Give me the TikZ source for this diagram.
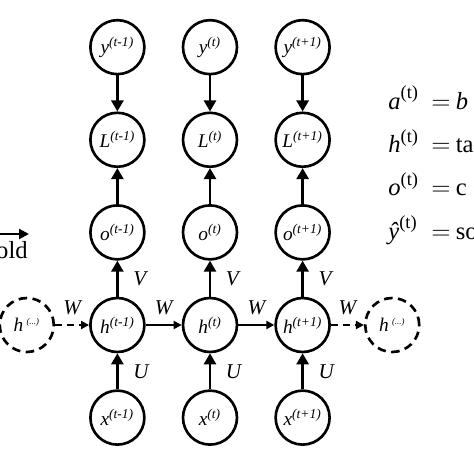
\documentclass[tikz,border=0pt]{standalone}
\usepackage{fontspec}
\setmainfont{Liberation Serif}
\usetikzlibrary{
  arrows.meta,
  positioning
}

\newcommand{\steplbl}[2]{\textit{#1}\textsuperscript{\textit{(#2)}}}
\newcommand{\eqsup}[1]{\raisebox{0.42em}{\fontsize{10.5}{12}\selectfont (#1)}}

\begin{document}
\begin{tikzpicture}[
  x=0.02cm, y=-0.02cm,
  node distance=0.72cm,
  unit/.style={
    circle, draw, line width=1.5pt,
    minimum size=1.08cm, inner sep=0pt,
    font=\fontsize{11}{13}\selectfont
  },
  ghost/.style={
    unit, dash pattern=on 1.7mm off 1.1mm
  },
  arr/.style={
    -{Triangle[length=2.2mm, width=2.4mm]}, line width=1.5pt
  },
  warr/.style={
    -{Triangle[length=1.6mm, width=1.6mm]}, line width=1.2pt
  },
  wt/.style={
    font=\fontsize{12}{14}\selectfont\itshape
  },
  eq/.style={
    anchor=base west, inner sep=0pt,
    font=\fontsize{14}{24.7}\selectfont
  }
]
  \useasboundingbox (0,0) rectangle (474,474);
  \clip (0,0) rectangle (474,474);

  % hidden states
  \node[unit] (h2) at (210,325) {\steplbl{h}{t}};
  \node[unit, left=of h2] (h1) {\steplbl{h}{t-1}};
  \node[unit, right=of h2] (h3) {\steplbl{h}{t+1}};
  \node[ghost, left=0.68cm of h1] (hl) {\textit{h}\,\textsuperscript{\tiny\textit{(...)}}};
  \node[ghost, right=0.66cm of h3] (hr) {\textit{h}\,\textsuperscript{\tiny\textit{(...)}}};

  % outputs, losses, targets
  \node[unit, above=of h1] (o1) {\steplbl{o}{t-1}};
  \node[unit, above=of h2] (o2) {\steplbl{o}{t}};
  \node[unit, above=of h3] (o3) {\steplbl{o}{t+1}};
  \node[unit, above=of o1] (L1) {\steplbl{L}{t-1}};
  \node[unit, above=of o2] (L2) {\steplbl{L}{t}};
  \node[unit, above=of o3] (L3) {\steplbl{L}{t+1}};
  \node[unit, above=of L1] (y1) {\steplbl{y}{t-1}};
  \node[unit, above=of L2] (y2) {\steplbl{y}{t}};
  \node[unit, above=of L3] (y3) {\steplbl{y}{t+1}};

  % inputs
  \node[unit, below=of h1] (x1) {\steplbl{x}{t-1}};
  \node[unit, below=of h2] (x2) {\steplbl{x}{t}};
  \node[unit, below=of h3] (x3) {\steplbl{x}{t+1}};

  \draw[arr] (y1) -- (L1);
  \draw[arr] (y2) -- (L2);
  \draw[arr] (y3) -- (L3);
  \draw[arr] (o1) -- (L1);
  \draw[arr] (o2) -- (L2);
  \draw[arr] (o3) -- (L3);
  \draw[arr] (h1) -- node[wt, right=5pt] {V} (o1);
  \draw[arr] (h2) -- node[wt, right=5pt] {V} (o2);
  \draw[arr] (h3) -- node[wt, right=5pt] {V} (o3);
  \draw[arr] (x1) -- node[wt, right=5pt] {U} (h1);
  \draw[arr] (x2) -- node[wt, right=5pt] {U} (h2);
  \draw[arr] (x3) -- node[wt, right=5pt] {U} (h3);

  % recurrence
  \draw[warr, dash pattern=on 1.4mm off 1mm] (hl) -- node[wt, above=2pt] {W} (h1);
  \draw[warr] (h1) -- node[wt, above=2pt] {W} (h2);
  \draw[warr] (h2) -- node[wt, above=2pt] {W} (h3);
  \draw[warr, dash pattern=on 1.4mm off 1mm] (h3) -- node[wt, above=2pt] {W} (hr);

  % unfold arrow
  \coordinate (foldstart) at (-60,234);
  \coordinate (foldtip) at (29,234);
  \draw[-{Triangle[length=2mm, width=2mm]}, line width=1.2pt] (foldstart) -- (foldtip);
  \node[anchor=base east, inner sep=0pt, font=\fontsize{14}{16}\selectfont] (unfold) at (28,258) {Unfold};

  % equations
  \node[eq] (eqs) at (388,109) {%
    \begin{tabular}[t]{@{}p{0.86cm}@{}l@{\hspace{3pt}}l@{}}
      \textit{a}\eqsup{t} & $=$ & \textit{b} + \textit{W h}\eqsup{t-1} + \textit{U x}\eqsup{t} \\
      \textit{h}\eqsup{t} & $=$ & tanh(\textit{a}\eqsup{t}) \\
      \textit{o}\eqsup{t} & $=$ & c + \textit{V h}\eqsup{t} \\
      \textit{\^{y}}\eqsup{t} & $=$ & softmax(\textit{o}\eqsup{t})
    \end{tabular}};
\end{tikzpicture}
\end{document}
